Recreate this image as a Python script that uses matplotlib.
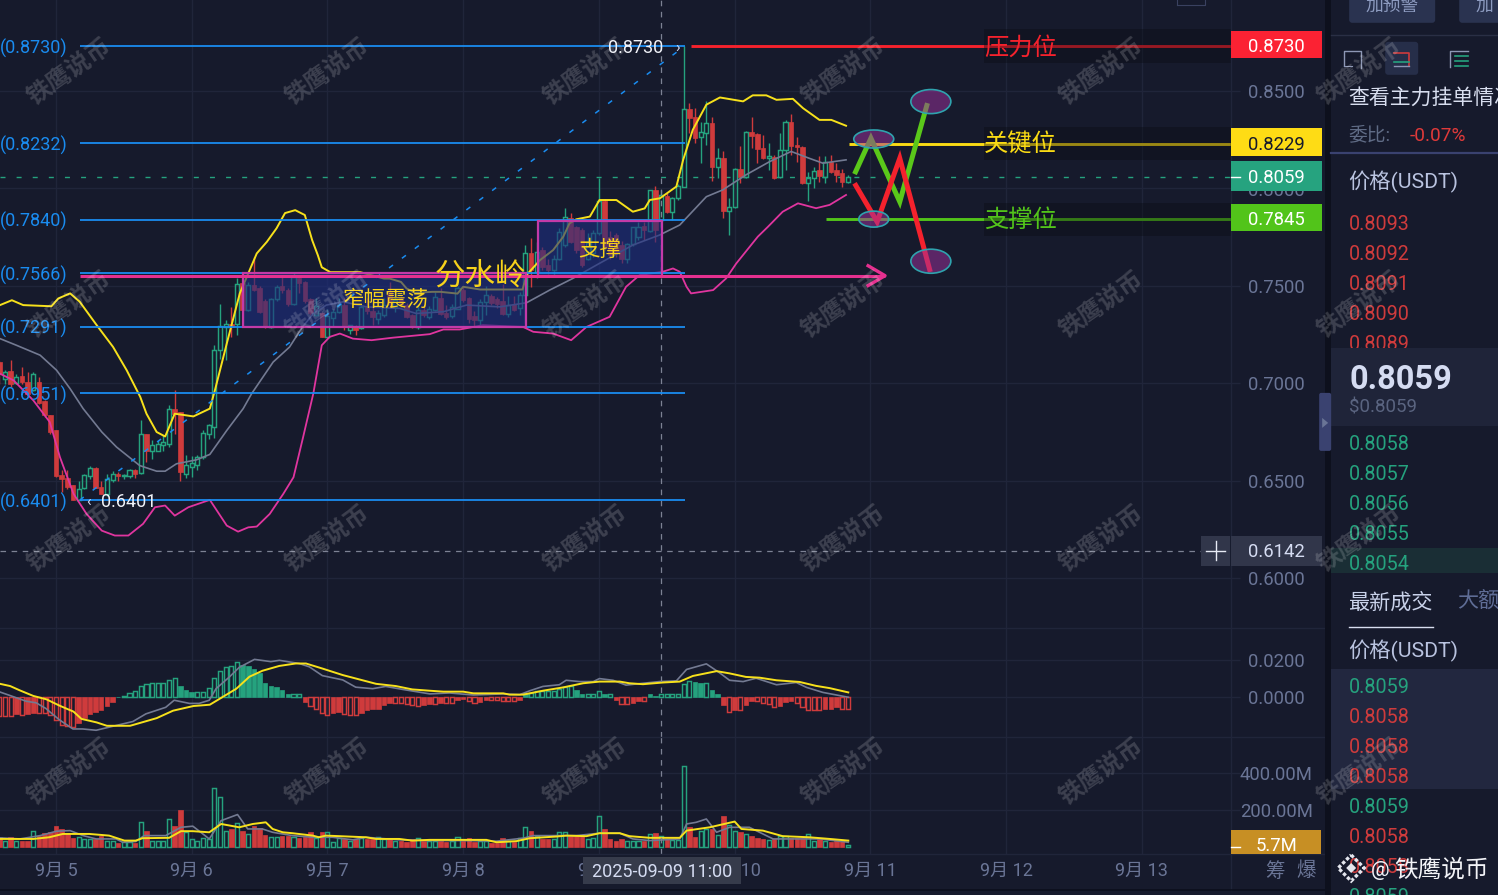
import matplotlib
matplotlib.use("Agg")
import matplotlib.pyplot as plt
from matplotlib.patches import Rectangle, Ellipse, FancyBboxPatch, Polygon
import numpy as np

plt.rcParams['font.family'] = ['Roboto', 'Noto Sans CJK SC', 'DejaVu Sans']
plt.rcParams['lines.scale_dashes'] = False

first_index = -10
opens = [.7109,.7024,.7061,.7001,.7036,.7007,.6964,.7007,.6909,.6835,
 .6758,.6527,.6515,.6476,.6402,.6464,.6522,.6566,.6467,.6433,
 .6505,.6535,.6522,.6522,.6556,.6539,.6738,.6655,.6655,.6681,
 .6690,.6866,.6852,.6535,.6573,.6583,.6621,.6738,.6775,.7169,
 .7289,.7306,.7306,.7512,.7375,.7503,.7491,.7423,.7289,.7430,
 .7498,.7481,.7406,.7538,.7520,.7430,.7349,.7358,.7238,.7337,
 .7366,.7401,.7272,.7292,.7286,.7392,.7371,.7332,.7349,.7469,
 .7392,.7435,.7400,.7349,.7289,.7375,.7340,.7378,.7435,.7361,
 .7344,.7383,.7477,.7435,.7344,.7323,.7417,.7447,.7430,.7423,
 .7357,.7409,.7388,.7451,.7666,.7571,.7686,.7606,.7580,.7635,
 .7709,.7846,.7803,.7786,.7640,.7666,.7769,.7936,.7751,.7760,
 .7709,.7640,.7714,.7751,.7806,.7782,.7991,.7837,.7960,.7880,
 .7948,.8009,.8406,.8368,.8265,.8286,.8337,.8108,.8154,.7885,
 .7902,.8097,.8056,.8291,.8277,.8205,.8154,.8163,.8056,.8197,
 .8339,.8222,.8214,.8025,.8051,.8094,.8060,.8137,.8094,.8077,.8034]
highs = [.7115,.7067,.7118,.7049,.7084,.7058,.7058,.7032,.6912,.6838,
 .6760,.6553,.6553,.6478,.6501,.6535,.6575,.6568,.6501,.6535,
 .6549,.6544,.6535,.6561,.6561,.6810,.6741,.6707,.6707,.6733,
 .6887,.6964,.6855,.6630,.6625,.6630,.6758,.6793,.7195,.7406,
 .7323,.7392,.7538,.7529,.7520,.7649,.7500,.7430,.7436,.7503,
 .7543,.7491,.7572,.7543,.7525,.7436,.7435,.7365,.7383,.7383,
 .7435,.7435,.7300,.7297,.7400,.7435,.7400,.7378,.7435,.7520,
 .7440,.7450,.7410,.7355,.7400,.7400,.7395,.7470,.7490,.7400,
 .7405,.7500,.7500,.7445,.7370,.7430,.7500,.7460,.7440,.7510,
 .7450,.7450,.7470,.7708,.7743,.7726,.7700,.7640,.7657,.7794,
 .7897,.7875,.7806,.7794,.7770,.7786,.8051,.7943,.7780,.7770,
 .7730,.7720,.7803,.7828,.7828,.7991,.8012,.7990,.7974,.7957,
 .8022,.8730,.8440,.8411,.8342,.8450,.8365,.8205,.8193,.7948,
 .8102,.8217,.8296,.8368,.8286,.8274,.8234,.8170,.8286,.8351,
 .8382,.8265,.8217,.8085,.8108,.8166,.8166,.8171,.8132,.8097,.8068]
lows = [.6998,.6998,.6981,.6998,.6998,.6938,.6960,.6895,.6827,.6741,
 .6518,.6441,.6458,.6401,.6401,.6458,.6510,.6462,.6430,.6424,
 .6493,.6501,.6510,.6515,.6515,.6535,.6595,.6613,.6652,.6655,
 .6673,.6741,.6498,.6515,.6518,.6556,.6613,.6715,.6721,.7126,
 .7118,.7238,.7246,.7289,.7370,.7474,.7360,.7285,.7285,.7423,
 .7464,.7395,.7401,.7461,.7413,.7350,.7344,.7238,.7234,.7289,
 .7361,.7272,.7255,.7246,.7280,.7357,.7298,.7306,.7340,.7388,
 .7365,.7390,.7335,.7285,.7280,.7340,.7330,.7370,.7350,.7330,
 .7335,.7380,.7415,.7310,.7290,.7290,.7350,.7400,.7385,.7350,
 .7340,.7370,.7350,.7307,.7495,.7540,.7580,.7563,.7555,.7632,
 .7700,.7717,.7666,.7597,.7630,.7650,.7760,.7683,.7640,.7650,
 .7615,.7615,.7703,.7734,.7734,.7777,.7726,.7800,.7871,.7837,
 .7940,.8005,.8282,.8231,.8128,.8222,.8039,.8051,.7846,.7760,
 .7897,.8025,.8051,.8205,.8132,.8149,.8094,.8046,.8051,.8094,
 .8171,.8137,.8022,.7936,.8000,.8034,.8029,.8077,.8034,.8008,.8029]
closes = [.7046,.7058,.6998,.7032,.7007,.6947,.7046,.6899,.6835,.6750,
 .6522,.6510,.6467,.6402,.6458,.6527,.6566,.6464,.6433,.6510,
 .6535,.6522,.6527,.6556,.6535,.6738,.6652,.6681,.6690,.6698,
 .6866,.6844,.6544,.6583,.6590,.6621,.6745,.6784,.7173,.7294,
 .7306,.7289,.7507,.7375,.7503,.7481,.7366,.7289,.7430,.7495,
 .7478,.7406,.7543,.7512,.7423,.7358,.7395,.7238,.7344,.7366,
 .7401,.7289,.7298,.7272,.7392,.7371,.7340,.7358,.7400,.7409,
 .7426,.7400,.7340,.7289,.7375,.7349,.7383,.7440,.7357,.7340,
 .7392,.7491,.7426,.7332,.7327,.7417,.7452,.7412,.7409,.7357,
 .7400,.7378,.7452,.7667,.7581,.7674,.7597,.7580,.7635,.7777,
 .7851,.7726,.7683,.7606,.7717,.7772,.7936,.7700,.7657,.7666,
 .7640,.7714,.7800,.7803,.7786,.7991,.7786,.7965,.7880,.7948,
 .8012,.8406,.8359,.8257,.8291,.8337,.8108,.8154,.7885,.7905,
 .8097,.8056,.8291,.8270,.8202,.8154,.8167,.8051,.8197,.8339,
 .8217,.8210,.8025,.8051,.8090,.8063,.8137,.8085,.8068,.8034,.8059]

boll_up_t = [-9.9,-7.8,-5.8,-.8,.4,2.5,4.2,7.2,10.1,12.5,14.9,16,17.8,19.3,21,24.3,27.2,28.1,30.2,32.5,35.5,37.3,39,40.5,42.3,44,45.3,46.3,47,48.5,53.8,58,59,61,62,63.5,66.5,68,71,72,75,79,82.5,83.2,85.6,87.9,89.7,90.8,92,94.4,96.1,99.1,102,104.1,105,106.8,109.7,110.9,112.6,115,117.4,121.5,123.2,125.6,127.4,130.3,132.1,135,137.1,139.7]
boll_up = [.7401,.7426,.7401,.7395,.7435,.7461,.7418,.7298,.7186,.7067,.6930,.6844,.6750,.6727,.6844,.6830,.6870,.6964,.7204,.7461,.7666,.7726,.7795,.7873,.7888,.7863,.7734,.7657,.7595,.7570,.7570,.7537,.7537,.7520,.7486,.7464,.7469,.7469,.7460,.7495,.7481,.7481,.7481,.7555,.7632,.7683,.7752,.7820,.7841,.7855,.7940,.7940,.7880,.7897,.7940,.7949,.8009,.8146,.8300,.8429,.8466,.8446,.8477,.8477,.8454,.8459,.8411,.8351,.8351,.8321]
boll_mid_t = [-9.9,-7,-2.8,.1,2.5,4.8,8.1,10.7,14.8,17.8,19.3,21.3,24.8,27.2,30.2,33.1,34.6,38.4,41.3,43.4,45.5,47.8,50.8,54.9,60.8,63.7,68.5,72.6,78.5,83.2,87.3,91.4,96.1,102,106.7,110.3,115,117.9,122,126.2,130,133.2,135.6,139.7]
boll_mid = [.7229,.7195,.7144,.7067,.6972,.6870,.6750,.6673,.6578,.6549,.6549,.6587,.6607,.6635,.6758,.6870,.6947,.7109,.7186,.7281,.7358,.7401,.7418,.7392,.7384,.7358,.7367,.7401,.7392,.7413,.7478,.7538,.7615,.7709,.7760,.7812,.7957,.7992,.8069,.8137,.8189,.8154,.8129,.8146]
boll_low_t = [-9.9,-7.5,-4,-1.1,.7,3.1,5.4,8.1,10.4,12.8,15.4,17.5,19.3,21,23.4,27.2,30.2,32.2,34,35.5,37.8,40.2,42,43.7,45.5,47,48.4,50.2,52.5,55.8,59.6,66.1,68.5,71.4,75.5,82.6,84.4,87.9,91.1,93.8,97.9,100.8,103.2,107.3,109.1,110.3,111.5,112.3,116.2,118.5,120.3,124.1,125.9,128.5,131.2,134.4,136.8,139.7]
boll_low = [.7049,.7015,.6912,.6801,.6621,.6433,.6330,.6244,.6219,.6219,.6279,.6364,.6373,.6321,.6364,.6402,.6270,.6239,.6261,.6265,.6330,.6433,.6518,.6724,.6947,.7195,.7238,.7255,.7229,.7221,.7234,.7252,.7276,.7276,.7298,.7289,.7264,.7255,.7221,.7289,.7341,.7495,.7555,.7572,.7589,.7572,.7495,.7461,.7478,.7538,.7615,.7752,.7803,.7880,.7923,.7898,.7915,.7966]

macd_hist_e4 = [-100,-100,-102,-91,-93,-91,-84,-84,-84,-96,
 -123,-149,-154,-161,-140,-109,-88,-79,-70,-47,
 -23,4,9,21,32,61,70,74,79,79,
 93,102,61,40,26,26,30,47,102,140,
 163,170,188,172,167,149,128,79,61,56,
 39,16,16,16,-23,-47,-61,-84,-93,-84,
 -79,-88,-93,-93,-84,-70,-65,-61,-39,-32,
 -32,-32,-35,-44,-46,-44,-35,-35,-30,-30,
 -30,-14,-12,-21,-30,-23,-14,-14,-14,-21,
 -21,-21,-14,21,23,35,35,35,35,42,
 53,58,39,16,16,16,32,16,16,-14,
 -35,-35,-30,-21,-21,16,9,16,16,16,
 16,70,88,84,79,79,40,16,-44,-79,
 -70,-70,-39,-21,-21,-32,-35,-53,-47,-23,
 -21,-30,-53,-68,-68,-68,-63,-61,-54,-61,-61]
dea_t = [-9.9,-8.1,-6.4,-4,-1.7,.7,3.1,4.5,7.2,9,13.1,15.4,17.8,20.7,24.3,27.2,29.5,31.9,34.2,36.5,39.5,42.4,44.2,47.1,50.7,56.6,60.1,63,66.1,68.5,72,73.8,79.1,80.2,82.6,86.1,89.7,93.2,96.1,99.7,101.4,103.8,107.3,110.3,112.6,116.8,119.1,122,124.4,127.4,131.5,134.4,136.8,140.1]
dea_e4 = [72,60,37,7,-11,-46,-77,-116,-135,-153,-153,-133,-112,-72,-47,-40,2,46,110,142,168,181,181,154,119,72,60,42,35,30,30,21,21,14,14,35,53,75,84,84,75,70,79,84,114,140,128,109,105,91,82,61,49,26]
dif_t = [-9.9,-8.1,-5.3,-3.5,-1.8,.6,3,4.7,7.1,10,13.6,15.9,19.4,20.9,23.6,25.3,27.1,28.3,30.6,32.4,35.1,38,39.5,43,44.8,47.1,50.7,53,56,58.3,61.3,66.1,69.6,73.8,79.1,82,83.8,86.1,89,90.2,92.6,95,96.1,98.5,100.8,103.8,106.7,109.7,111.5,115,117.3,119.1,121.5,123.8,127.4,130.9,132.7,135.6,140.1]
dif_e4 = [28,9,-21,-30,-60,-121,-170,-170,-177,-156,-130,-89,-54,-16,-33,-33,-16,46,107,160,203,191,198,181,163,116,93,54,46,58,42,18,23,12,18,14,35,58,67,91,84,84,100,91,65,75,84,88,149,179,132,91,84,102,67,79,53,26,0]

volume_m = [54,29,54,29,32,32,86,59,72,77,
 110,95,72,47,54,38,38,41,59,29,
 29,20,23,23,20,135,86,32,29,32,
 149,110,200,77,38,29,45,41,319,270,
 86,95,126,86,68,113,99,65,54,54,
 59,59,54,47,50,77,47,77,77,27,
 47,41,32,38,45,41,41,54,41,41,
 32,32,23,41,45,29,29,29,29,23,
 29,54,32,45,23,32,32,18,18,45,
 32,23,45,103,86,59,41,41,38,77,
 77,56,56,56,41,47,167,95,38,32,
 38,31,31,31,32,68,72,59,41,36,
 36,434,104,54,86,95,95,63,167,117,
 86,77,68,56,47,40,36,41,59,59,
 45,47,45,68,32,41,32,23,32,32,6]
vol_ma_t = [-9.9,-4,-1.2,1.2,5.9,9.4,12.1,14.1,15.3,20,22.1,24.2,27.1,29.2,32.4,34.8,37.1,38.3,40.1,41.8,45.4,46.5,47.7,50.1,54.8,56.6,60.7,63,66.1,76.1,77.9,81.4,83.8,88.5,90.2,93.8,96.1,99.7,101.4,105,110.3,111.5,115.6,120,121.2,125,128.5,133.2,136.8,140.1]
vol_ma = [41,41,50,68,68,59,32,32,45,47,83,83,77,122,104,122,131,95,77,72,59,50,59,56,50,41,41,32,36,36,23,29,45,54,59,56,72,72,56,47,47,86,104,135,95,86,56,50,41,32]
vol_ma2_t = [-9.9,-6.4,-2.8,.1,2.5,4.8,7.1,10.6,11.8,14.1,15.6,19.4,22.1,24.2,25.6,27.1,29.2,32.1,33.9,36.5,38.3,41.8,45.4,48.9,52.5,54.8,60.7,66.1,72,77.9,82.6,84.4,88.5,92,96.1,99.7,102,105,110.3,111.5,113.2,115,116.8,119.1,122.6,126.8,130.9,135,140.1]
vol_ma2 = [47,41,59,83,86,59,41,41,23,27,59,59,104,110,77,41,140,173,95,95,77,59,50,50,36,50,36,32,32,29,45,59,59,59,72,72,41,32,41,122,131,149,77,104,104,41,41,41,23]

fib_levels = [.8730, .8232, .7840, .7566, .7291, .6951, .6401]
fib_labels = ['(0.8730)', '(0.8232)', '(0.7840)', '(0.7566)', '(0.7291)', '(0.6951)', '(0.6401)']
day_ticks = [0, 24, 48, 72, 96, 120, 144, 168, 192]
day_labels = ['9月 5', '9月 6', '9月 7', '9月 8', '9月 9', '9月 10', '9月 11', '9月 12', '9月 13']
price_ticks = [.85, .80, .75, .70, .65, .60]
macd_ticks = [0.0, 0.02]
vol_ticks = [200, 400]
zig_green_t, zig_green = [141.2, 144.1, 149.2, 154.1], [.8073, .8257, .7931, .8437]
zig_red_t, zig_red = [141.2, 145.2, 149.2, 154.6], [.8026, .7828, .8154, .7571]
ask_prices = ['0.8093', '0.8092', '0.8091', '0.8090', '0.8089']
bid_prices = ['0.8058', '0.8057', '0.8056', '0.8055', '0.8054']
trade_prices = ['0.8059', '0.8058', '0.8058', '0.8058', '0.8059', '0.8058', '0.8058', '0.8059']
trade_sides = ['g', 'r', 'r', 'r', 'g', 'r', 'r', 'g']

BG = '#161a2c'; GRID = '#20253a'; TXT = '#6a7596'
UP = '#25a27e'; DN = '#cf3b3c'; BLUE = '#1a8cf0'
YEL = '#f7e11b'; PINK = '#e0359f'; GRAY = '#737a92'; MAG = '#e5308f'
W, H = 1498, 895
fig = plt.figure(figsize=((W+.2)/100, (H+.2)/100), dpi=100, facecolor=BG)

def axpx(l, t, r, b):
    a = fig.add_axes([l/W, 1-b/H, (r-l)/W, (b-t)/H])
    a.set_facecolor('none')
    return a

XL = (-9.9, 207.8)
ax = axpx(0, 0, 1231, 628)
ax2 = axpx(0, 628, 1231, 737)
ax3 = axpx(0, 737, 1231, 854)
ax.set_ylim(.5745, .8967)
ax2.set_ylim(-.02129, .03716)
ax3.set_ylim(-40.5, 593)
for a, ticks, labs in ((ax, price_ticks, ['%.4f' % v for v in price_ticks]),
                       (ax2, macd_ticks, ['%.4f' % v for v in macd_ticks]),
                       (ax3, vol_ticks, ['%.2fM' % v for v in vol_ticks])):
    a.set_xlim(*XL)
    for s in a.spines.values():
        s.set_visible(False)
    a.yaxis.tick_right()
    a.set_yticks(ticks)
    a.set_yticklabels(labs, ha='center', fontsize=13.3, color=TXT)
    a.tick_params(axis='y', length=6.5, color=GRID, width=1, pad=26)
    a.set_xticks(day_ticks)
    a.grid(True, color=GRID, lw=1)
    a.set_axisbelow(True)
    a.tick_params(axis='x', length=0, labelbottom=False)
ax3.tick_params(axis='x', labelbottom=True, pad=5.5)
ax3.set_xticklabels(day_labels, fontsize=13, color=TXT)

t = np.arange(len(opens)) + first_index
O, Hi, Lo, C = map(np.array, (opens, highs, lows, closes))
is_up = C >= O
top, bot = np.maximum(O, C), np.minimum(O, C)
ax.vlines(t[is_up], top[is_up], Hi[is_up], color=UP, lw=1, zorder=3)
ax.vlines(t[is_up], Lo[is_up], bot[is_up], color=UP, lw=1, zorder=3)
ax.vlines(t[~is_up], Lo[~is_up], Hi[~is_up], color=DN, lw=1, zorder=3)
ax.bar(t[is_up], (top-bot)[is_up], bottom=bot[is_up], width=.72, facecolor='none', edgecolor=UP, lw=1.05, zorder=3)
ax.bar(t[~is_up], (top-bot)[~is_up], bottom=bot[~is_up], width=.8, facecolor=DN, edgecolor=DN, lw=.5, zorder=3)

ax.plot(boll_mid_t, boll_mid, color=GRAY, lw=1.2, zorder=4)
ax.plot(boll_low_t, boll_low, color=PINK, lw=1.3, zorder=4)
ax.plot(boll_up_t, boll_up, color=YEL, lw=1.4, zorder=4)

# boxes sit over candles and indicator lines
box_spans = [(33.1, 83.1, .7287, .7565), (85.2, 107.2, .7549, .7832)]
for x0, x1, y0, y1 in box_spans:
    ax.add_patch(Rectangle((x0, y0), x1-x0, y1-y0, facecolor='#1e2e81', alpha=.62, lw=0, zorder=5))
    ax.add_patch(Rectangle((x0, y0), x1-x0, y1-y0, facecolor='none', edgecolor='#c33aa8', lw=1.6, zorder=7))

for lv in fib_levels:
    ax.plot([4.2, 111.2], [lv, lv], color=BLUE, lw=1.3, zorder=6, solid_capstyle='butt')
for lv, lab in zip(fib_levels, fib_labels):
    ax.text(-9.9, lv, lab, color=BLUE, fontsize=13, va='center_baseline', ha='left', zorder=8)
ax.plot([4.2, 111.2], [.6401, .8730], color=BLUE, lw=1.1, ls=(0, (3.6, 8)), zorder=6)
ax.text(111.2-3.9, .8730, '0.8730', color='#f0f2f8', fontsize=13, va='center_baseline', ha='right', zorder=8)
ax.text(110, .8730, '›', color='#d5dcf2', fontsize=11, va='center_baseline', ha='center', zorder=8)
ax.text(8, .6401, '0.6401', color='#f0f2f8', fontsize=13, va='center_baseline', ha='left', zorder=8)
ax.text(5.7, .6401, '‹', color='#d5dcf2', fontsize=11, va='center_baseline', ha='center', zorder=8)

# watershed line and arrow
ax.plot([4.2, 146.6], [.7552, .7552], color=MAG, lw=2.2, zorder=8, solid_capstyle='butt')
ax.plot([143.6, 146.6, 143.6], [.7603, .7552, .7501], color=MAG, lw=2.4, zorder=8)

# last price + crosshair
ax.plot([-9.9, 207.8], [.8059, .8059], color=UP, lw=1, ls=(0, (3.6, 8)), zorder=2)
ax.plot([-9.9, 202.5], [.6140, .6140], color='#7d8294', lw=.9, ls=(0, (4, 4)), zorder=2)

# levels with dark bands
for lv, col, st, lab, off in ((.8730, '#f5222d', 112.3, '压力位', .0003), (.8229, '#fadb14', 140.2, '关键位', .0008), (.7842, '#52c41a', 136.2, '支撑位', .0008)):
    ax.plot([st, 207.8], [lv, lv], color=col, lw=2.1, zorder=6, solid_capstyle='butt')
    ax.add_patch(Rectangle((164.1, lv-.0085), 207.8-164.1, .017, facecolor='#0a0c14', alpha=.4, lw=0, zorder=7))
    ax.text(164.1, lv+off, lab, color=col, fontsize=17.5, va='center_baseline', ha='left', zorder=9)

ax.plot(zig_green_t, zig_green, color='#5ac81a', lw=3.6, zorder=8, solid_joinstyle='miter', solid_capstyle='butt')
ax.plot(zig_red_t, zig_red, color='#f5222d', lw=3.6, zorder=8, solid_joinstyle='miter', solid_capstyle='butt')
for cx, cy, ew, eh in ((154.7, .8445, 7.07, .01234), (144.6, .8253, 7.07, .00925), (144.6, .7842, 5.3, .0082), (154.7, .7626, 7.07, .01234)):
    ax.add_patch(Ellipse((cx, cy), ew, eh, facecolor='#a032a0', alpha=.5, lw=0, zorder=9))
    ax.add_patch(Ellipse((cx, cy), ew, eh, facecolor='none', edgecolor='#2fa3ae', lw=1.2, zorder=9))

ax.text(58.2, .7438, '窄幅震荡', color='#f7d21b', fontsize=15.5, va='center_baseline', ha='center', zorder=9)
ax.text(75, .7568, '分水岭', color='#f7d21b', fontsize=22, va='center_baseline', ha='center', zorder=9)
ax.text(96.2, .7694, '支撑', color='#f7d21b', fontsize=15.5, va='center_baseline', ha='center', zorder=9)

# MACD
h = np.array(macd_hist_e4) / 1e4
prev = np.r_[h[0], h[:-1]]
growing = (np.abs(h) >= np.abs(prev)) & (np.sign(h) == np.sign(prev))
for mask, col in ((h >= 0, UP), (h < 0, DN)):
    ax2.bar(t[mask & ~growing], h[mask & ~growing], width=.8, facecolor=col, edgecolor=col, lw=.5, zorder=3)
    ax2.bar(t[mask & growing], h[mask & growing], width=.72, facecolor='none', edgecolor=col, lw=1.05, zorder=3)
ax2.plot(dif_t, np.array(dif_e4)/1e4, color=GRAY, lw=1.2, zorder=4)
ax2.plot(dea_t, np.array(dea_e4)/1e4, color=YEL, lw=1.4, zorder=4)
ax2.axvline(107, color='#7d8294', lw=.9, ls=(0, (4, 4)), zorder=5)

# Volume
V = np.array(volume_m, dtype=float)
ax3.bar(t[is_up], V[is_up], width=.72, facecolor='none', edgecolor=UP, lw=1.05, zorder=3)
ax3.bar(t[~is_up], V[~is_up], width=.8, facecolor=DN, edgecolor=DN, lw=.5, zorder=3)
ax3.plot(vol_ma2_t, vol_ma2, color=GRAY, lw=1.2, zorder=4)
ax3.plot(vol_ma_t, vol_ma, color=YEL, lw=1.4, zorder=4)
ax3.axvline(107, color='#7d8294', lw=.9, ls=(0, (4, 4)), zorder=5)
ax.axvline(107, color='#7d8294', lw=.9, ls=(0, (4, 4)), zorder=5)

# Pixel overlay: interface chrome
ov = fig.add_axes([0, 0, 1, 1], zorder=10)
ov.set_xlim(0, W); ov.set_ylim(H, 0); ov.axis('off'); ov.set_facecolor('none')

def rect(x0, y0, x1, y1, col, z=1, **kw):
    ov.add_patch(Rectangle((x0, y0), x1-x0, y1-y0, facecolor=col, lw=0, zorder=z, **kw))
def tx(x, y, s, col, fs, ha='left', z=5, **kw):
    ov.text(x, y, s, color=col, fontsize=fs, ha=ha, va='center_baseline', zorder=z, **kw)
def seg(xs, ys, col, lw=1, z=4, **kw):
    ov.plot(xs, ys, color=col, lw=lw, zorder=z, **kw)

seg([0, 1325], [628, 628], GRID, 1, 0.5)
seg([0, 1325], [737, 737], GRID, 1, 0.5)
seg([0, 1325], [854, 854], GRID, 1, 0.5)
seg([1231, 1231], [0, 890], GRID, 1, 0.5)
seg([0, 1325], [890, 890], '#0c0f1c', 1.2, 0.5)
seg([1177, 1205, 1205], [5, 5, 0], '#3a4160', .8, 1)
seg([1177, 1177], [0, 5], '#3a4160', .8, 1)

# price tags
rect(1231, 31, 1322, 58, '#fb2233', 3); tx(1276, 45, '0.8730', 'white', 13.3, 'center')
rect(1231, 128, 1322, 156, '#fedc15', 3); tx(1276, 143, '0.8229', '#161a2c', 13.3, 'center')
rect(1231, 161, 1322, 191, '#26a37f', 3); tx(1276, 176, '0.8059', 'white', 13.3, 'center')
seg([1231, 1240], [177, 177], 'white', 1)
rect(1231, 204, 1322, 231, '#52c41a', 3); tx(1276, 218, '0.7845', 'white', 13.3, 'center')
rect(1231, 536, 1322, 566, '#31364a', 3); tx(1276, 550, '0.6142', '#d5dcf2', 13.3, 'center')
rect(1201, 536, 1230, 566, '#31364a', 3)
seg([1206, 1225], [551, 551], '#e8ebf5', 1); seg([1215.5, 1215.5], [541, 560], '#e8ebf5', 1)
rect(1231, 830, 1321, 854, '#c78f24', 3); tx(1276, 844, '5.7M', 'white', 13.3, 'center')
seg([1231, 1240], [847, 847], 'white', 1)
rect(583, 857, 741, 884, '#363b4b', 3); tx(662, 870, '2025-09-09 11:00', '#d5dcf2', 13, 'center')
tx(1275, 869, '筹', TXT, 14, 'center'); tx(1306, 869, '爆', TXT, 14, 'center')

# side panel
rect(1325, 0, 1331, 895, '#0d101d', 2)
rect(1331, 0, W, 895, BG, 1.5)
ov.add_patch(FancyBboxPatch((1321, 395), 8, 54, boxstyle='round,pad=2', facecolor='#3a4270', lw=0, zorder=4))
ov.add_patch(Polygon([[1322, 418], [1322, 428], [1328, 423]], facecolor='#6a7596', lw=0, zorder=5))
ov.add_patch(FancyBboxPatch((1352, -8), 80, 28, boxstyle='round,pad=3', facecolor='#2a3350', lw=0, zorder=3))
ov.add_patch(FancyBboxPatch((1462, -8), 60, 28, boxstyle='round,pad=3', facecolor='#2a3350', lw=0, zorder=3))
tx(1392, 4, '加预警', '#8d9bc0', 12.8, 'center')
tx(1475, 4, '加', '#8d9bc0', 12.8)
seg([1331, W], [35, 35], '#2a2f45', 1)
ov.add_patch(FancyBboxPatch((1388, 45), 27, 27, boxstyle='round,pad=3', facecolor='#262e49', lw=0, zorder=3))
seg([1344, 1344, 1361, 1361], [66, 51, 51, 68], '#8d97b5', 1)
seg([1344, 1352], [66, 66], '#8d97b5', .8)
seg([1394, 1409, 1409], [53, 53, 66], '#cf3b3c', 1.2)
seg([1394, 1409], [62, 62], '#25a27e', 1.2); seg([1394, 1409], [66, 66], '#8d97b5', 1)
seg([1450, 1450, 1468], [67, 51, 51], '#8d97b5', 1)
seg([1455, 1468], [56, 56], '#25a27e', 1.2); seg([1455, 1468], [61, 61], '#25a27e', 1.2); seg([1455, 1468], [66, 66], '#25a27e', 1.2)
tx(1348, 96, '查看主力挂单情况', '#d8deef', 15)
tx(1348, 133, '委比:', '#5f6b85', 13.5)
tx(1409, 134, '-0.07%', '#e03a3a', 13.7)
seg([1331, W], [153, 153], '#3a4270', 1.6)
tx(1348, 179, '价格(USDT)', '#b9c3e0', 15.3)
for k, s in enumerate(ask_prices):
    tx(1349, 222+30*k, s, DN, 14.2, z=2.5)
rect(1331, 348, W, 426, '#1f2439', 3)
tx(1349, 376, '0.8059', '#d5dcf2', 23.5, fontweight='bold')
tx(1349, 405, '$0.8059', '#5a6480', 13.5)
rect(1331, 548, W, 573, '#1a2e35', 2)
for k, s in enumerate(bid_prices):
    tx(1349, 442+30*k, s, UP, 14.2)
tx(1348, 600, '最新成交', '#c9d2ea', 15.2)
tx(1457, 600, '大额', '#5f6d96', 15.2)
seg([1349, 1433], [627, 627], '#d8deef', 1)
tx(1348, 648, '价格(USDT)', '#b9c3e0', 15.3)
rect(1331, 669, W, 789, '#22273f', 2)
for k, (s, side) in enumerate(zip(trade_prices, trade_sides)):
    tx(1349, 685+30*k, s, UP if side == 'g' else DN, 14.2)

# brand mark
ov.add_patch(Polygon([[1351, 855], [1364, 868], [1351, 881], [1338, 868]], facecolor='none', edgecolor='#e4e6ee', lw=2.4, zorder=21, ls=(0, (2.5, 1.5))))
ov.add_patch(Polygon([[1351, 863], [1356, 868], [1351, 873], [1346, 868]], facecolor='#e4e6ee', lw=0, zorder=21))
tx(1371, 868, '@', '#f0f2f8', 15, z=21)
tx(1394, 867, '铁鹰说币', '#f2f3f7', 17, z=21)

# watermarks
wm_x = [70, 328, 586, 844, 1102, 1360]
wm_y = [73, 306, 540, 773]
for wy in wm_y:
    for wx in wm_x:
        ov.text(wx, wy, '铁鹰说币', color='white', alpha=.17, fontsize=17.5, fontweight='bold',
                rotation=35, ha='center', va='center', rotation_mode='anchor', zorder=20)

fig.savefig('out.png', dpi=100, facecolor=BG)
